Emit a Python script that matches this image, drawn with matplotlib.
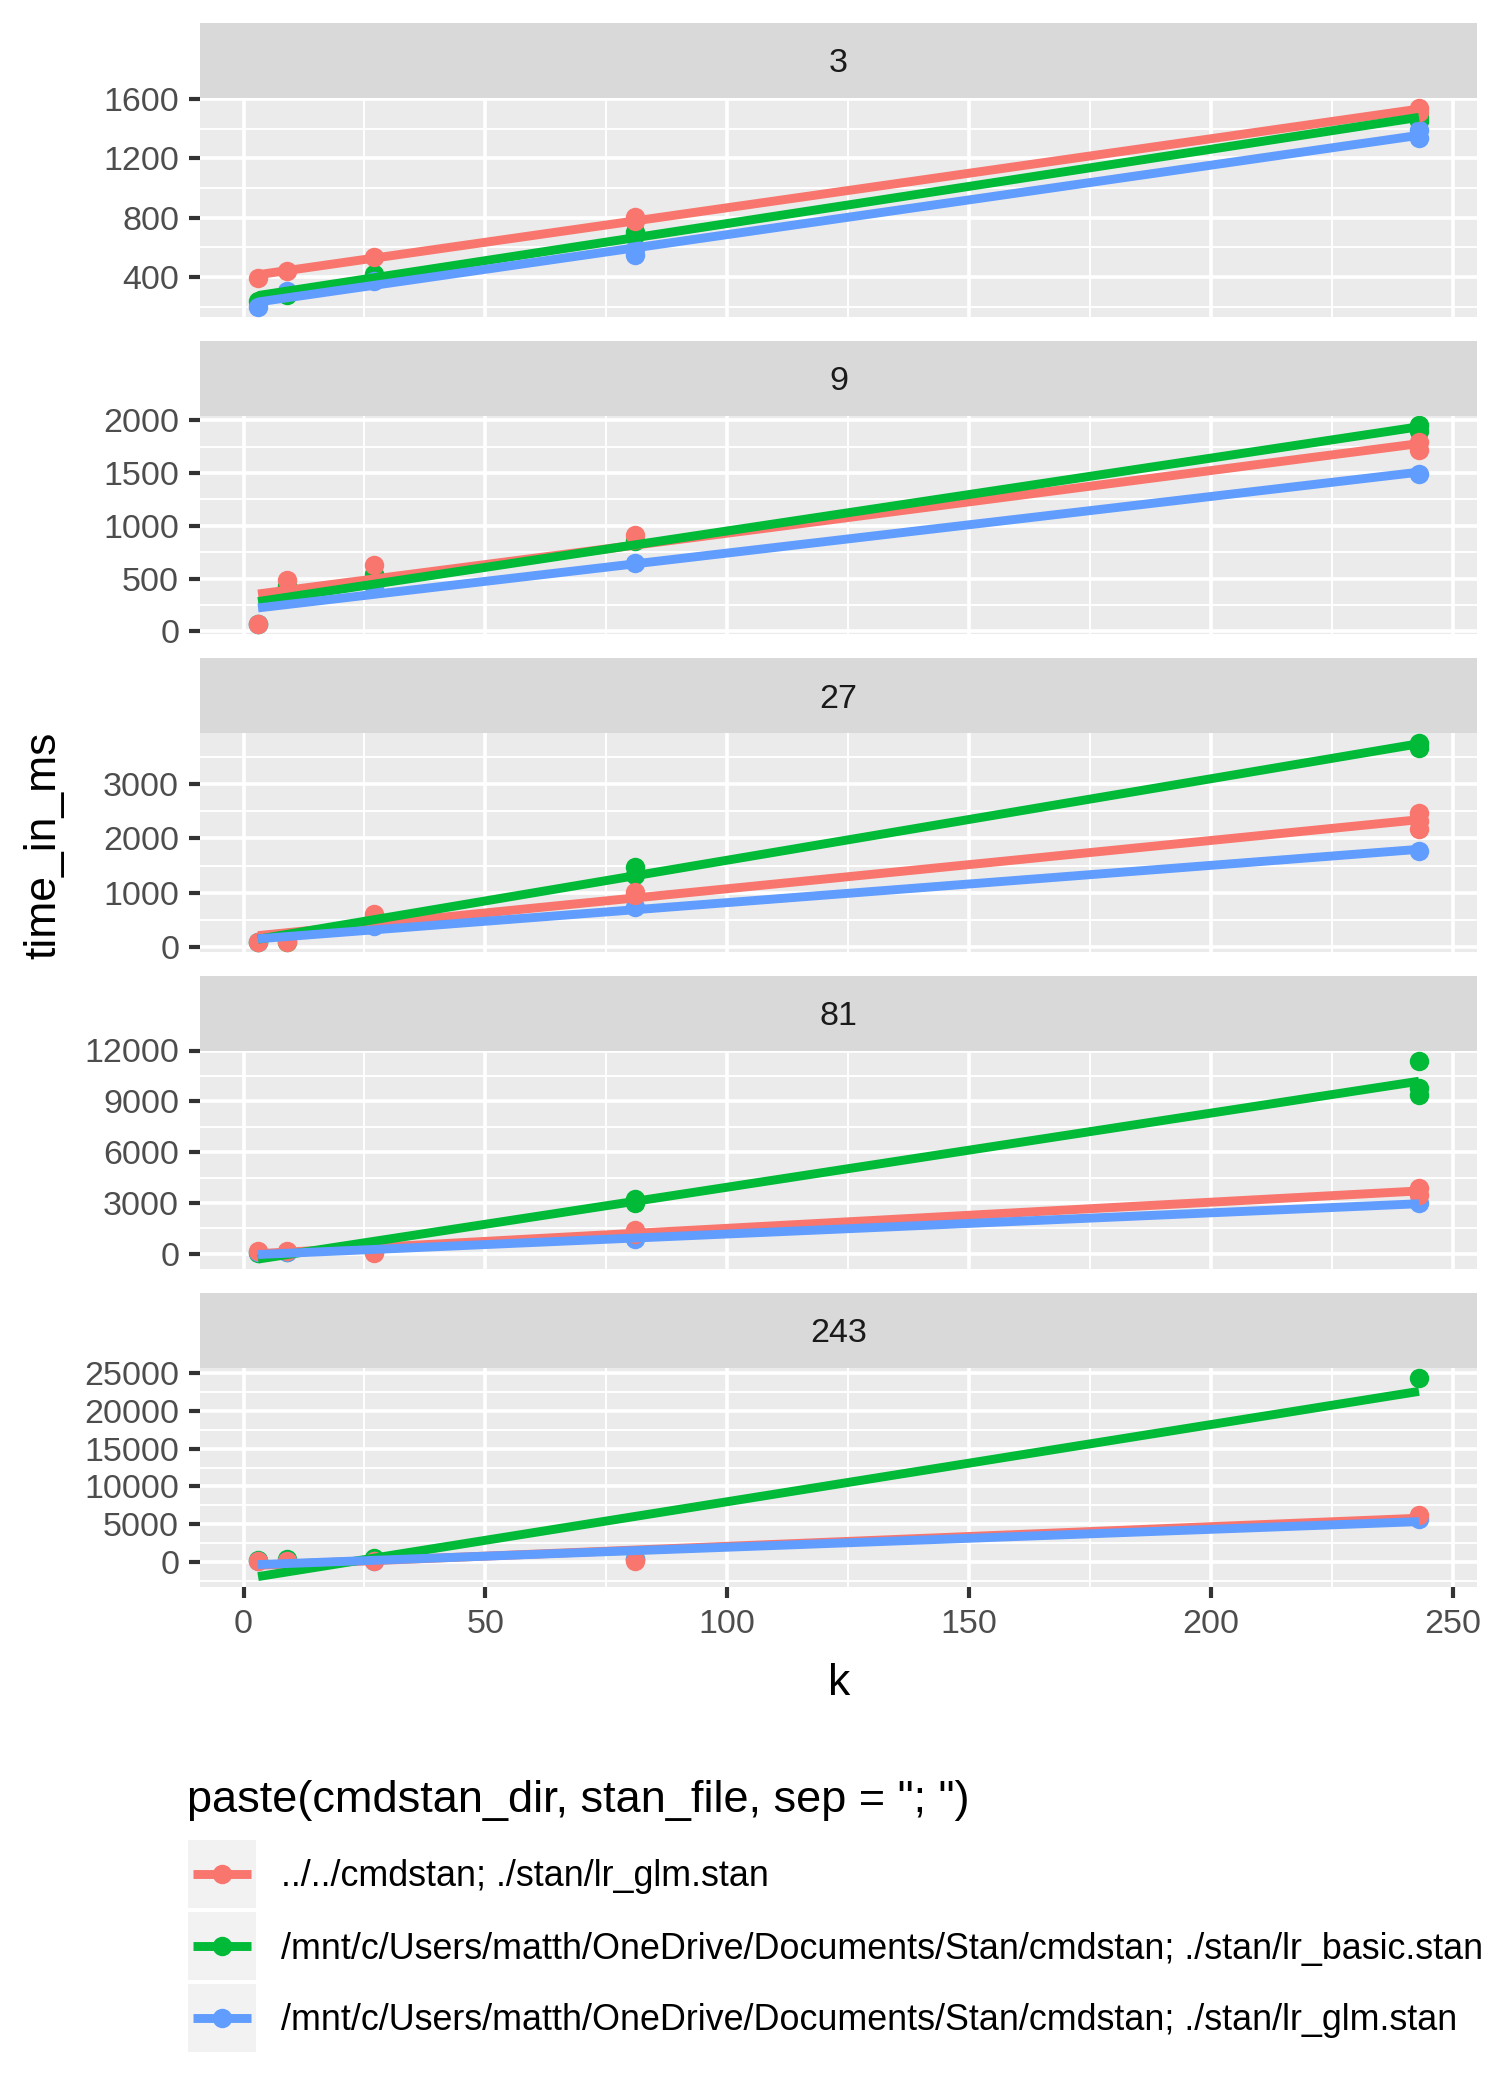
import numpy as np
import matplotlib
matplotlib.use("Agg")
import matplotlib.pyplot as plt
from matplotlib.ticker import MultipleLocator
from matplotlib.patches import Rectangle
from matplotlib.lines import Line2D

plt.rcParams['font.family'] = ['Liberation Sans', 'DejaVu Sans']

# facet values (strip labels) and the k values on the x axis
facet_n = [3, 9, 27, 81, 243]
k_vals = [3, 9, 27, 81, 243]

series_labels = [
    "../../cmdstan; ./stan/lr_glm.stan",
    "/mnt/c/Users/matth/OneDrive/Documents/Stan/cmdstan; ./stan/lr_basic.stan",
    "/mnt/c/Users/matth/OneDrive/Documents/Stan/cmdstan; ./stan/lr_glm.stan",
]
series_colors = ["#F8766D", "#00BA38", "#619CFF"]

# time_in_ms, one inner list per k value (several runs each)
t3_glm_local = [[390], [443], [533], [780, 805], [1515, 1540]]
t3_basic = [[240], [280], [422], [680, 700], [1455, 1480]]
t3_glm = [[200], [302], [375], [545, 590], [1335, 1390]]

t9_glm_local = [[75], [490], [630], [910], [1720, 1790]]
t9_basic = [[70], [430], [540], [860], [1900, 1950]]
t9_glm = [[70], [340], [420], [652], [1495]]

t27_glm_local = [[100], [100], [600], [960, 1010], [2180, 2330, 2460]]
t27_basic = [[100], [100], [560], [1330, 1480], [3670, 3760]]
t27_glm = [[100], [150], [380], [740], [1777]]

t81_glm_local = [[150], [150], [50], [1200, 1400], [3500, 3900]]
t81_basic = [[50], [100], [150], [3000, 3250], [9400, 9800, 11400]]
t81_glm = [[100], [100], [100], [850], [3000]]

t243_glm_local = [[100], [120], [150], [60], [6250]]
t243_basic = [[200], [300], [500], [400], [24400]]
t243_glm = [[100], [120], [150], [300], [5700]]

# order: glm_local, basic, glm  (same as series_labels)
facet_data = [
    [t3_glm_local, t3_basic, t3_glm],
    [t9_glm_local, t9_basic, t9_glm],
    [t27_glm_local, t27_basic, t27_glm],
    [t81_glm_local, t81_basic, t81_glm],
    [t243_glm_local, t243_basic, t243_glm],
]

y_breaks = [
    [400, 800, 1200, 1600],
    [0, 500, 1000, 1500, 2000],
    [0, 1000, 2000, 3000],
    [0, 3000, 6000, 9000, 12000],
    [0, 5000, 10000, 15000, 20000, 25000],
]
x_breaks = [0, 50, 100, 150, 200, 250]

W, H = 1500, 2100
fig = plt.figure(figsize=(15, 21), dpi=100)
fig.patch.set_facecolor('white')


def rect(x0, y0, x1, y1):
    # pixel box (top-left origin) -> figure fraction
    return [x0 / W, 1 - y1 / H, (x1 - x0) / W, (y1 - y0) / H]


left, right = 200, 1477
strip_h, panel_h, period = 75, 218.5, 317.5

point_order = [1, 2, 0]   # red points end up drawn on top
xmin, xmax = min(k_vals), max(k_vals)
xpad = 0.05 * (xmax - xmin)

for i, n in enumerate(facet_n):
    st = 23 + period * i
    sb = st + strip_h
    pb = sb + panel_h

    sax = fig.add_axes(rect(left, st, right, sb))
    sax.set_facecolor('#D9D9D9')
    sax.set_xticks([])
    sax.set_yticks([])
    for sp in sax.spines.values():
        sp.set_visible(False)
    sax.text(0.5, 0.5 - 12 / strip_h, str(n), transform=sax.transAxes, ha='center',
             va='baseline', fontsize=24.5, color='#1A1A1A')

    ax = fig.add_axes(rect(left, sb, right, pb))
    ax.set_facecolor('#EBEBEB')
    for sp in ax.spines.values():
        sp.set_visible(False)

    all_y = []
    fits = []
    for s, runs in enumerate(facet_data[i]):
        xs = np.concatenate([[k] * len(r) for k, r in zip(k_vals, runs)])
        ys = np.concatenate([r for r in runs])
        coef = np.polyfit(xs, ys, 1)
        xl = np.linspace(xmin, xmax, 80)
        yl = np.polyval(coef, xl)
        fits.append((xs, ys, xl, yl))
        all_y.extend(ys)
        all_y.extend(yl)

    for s in point_order:
        xs, ys = fits[s][0], fits[s][1]
        ax.scatter(xs, ys, s=196, color=series_colors[s], linewidths=0, zorder=3)
    for s in range(3):
        xl, yl = fits[s][2], fits[s][3]
        ax.plot(xl, yl, color=series_colors[s], lw=6.4, solid_capstyle='butt', zorder=4)

    lo, hi = min(all_y), max(all_y)
    d = hi - lo
    ax.set_ylim(lo - 0.05 * d, hi + 0.05 * d)
    ax.set_xlim(xmin - xpad, xmax + xpad)

    step = y_breaks[i][1] - y_breaks[i][0]
    ax.set_yticks(y_breaks[i], labels=[str(b) for b in y_breaks[i]])
    ax.yaxis.set_minor_locator(MultipleLocator(step / 2))
    ax.set_xticks(x_breaks, labels=[str(b) for b in x_breaks])
    ax.xaxis.set_minor_locator(MultipleLocator(25))

    ax.grid(which='major', color='white', lw=2.6)
    ax.grid(which='minor', color='white', lw=1.4)
    ax.set_axisbelow(True)

    ax.tick_params(axis='y', which='major', length=8, width=3, color='#333333',
                   pad=7, labelsize=24.5, labelcolor='#4D4D4D')
    ax.tick_params(which='minor', length=0)
    if i == len(facet_n) - 1:
        ax.tick_params(axis='x', which='major', length=8, width=3, color='#333333',
                       pad=8, labelsize=24.5, labelcolor='#4D4D4D')
    else:
        ax.tick_params(axis='x', which='major', length=0, labelbottom=False)

# axis titles
fig.text(44 / W, 1 - 845 / H, "time_in_ms", rotation=90, ha='center', va='center',
         fontsize=32, color='black')
fig.text(839 / W, 1 - 1695 / H, "k", ha='center', va='baseline', fontsize=32, color='black')

# legend
fig.text(187 / W, 1 - 1812 / H, 'paste(cmdstan_dir, stan_file, sep = "; ")',
         ha='left', va='baseline', fontsize=32.5, color='black')
key_top, key_size, key_gap = 1840, 68, 4
for s, lab in enumerate(series_labels):
    y0 = key_top + s * (key_size + key_gap)
    yc = y0 + key_size / 2
    fig.add_artist(Rectangle((188 / W, 1 - (y0 + key_size) / H), key_size / W, key_size / H,
                             transform=fig.transFigure, facecolor='#F2F2F2', edgecolor='none'))
    fig.add_artist(Line2D([193 / W, 251 / W], [1 - yc / H, 1 - yc / H], transform=fig.transFigure,
                          color=series_colors[s], lw=6.4, solid_capstyle='butt'))
    fig.add_artist(Line2D([222 / W], [1 - yc / H], transform=fig.transFigure, marker='o',
                          markersize=14, markeredgewidth=0, color=series_colors[s]))
    fig.text(281 / W, 1 - (yc + 12.5) / H, lab, ha='left', va='baseline',
             fontsize=25.8, color='black')

fig.savefig("out.png", dpi=100)
